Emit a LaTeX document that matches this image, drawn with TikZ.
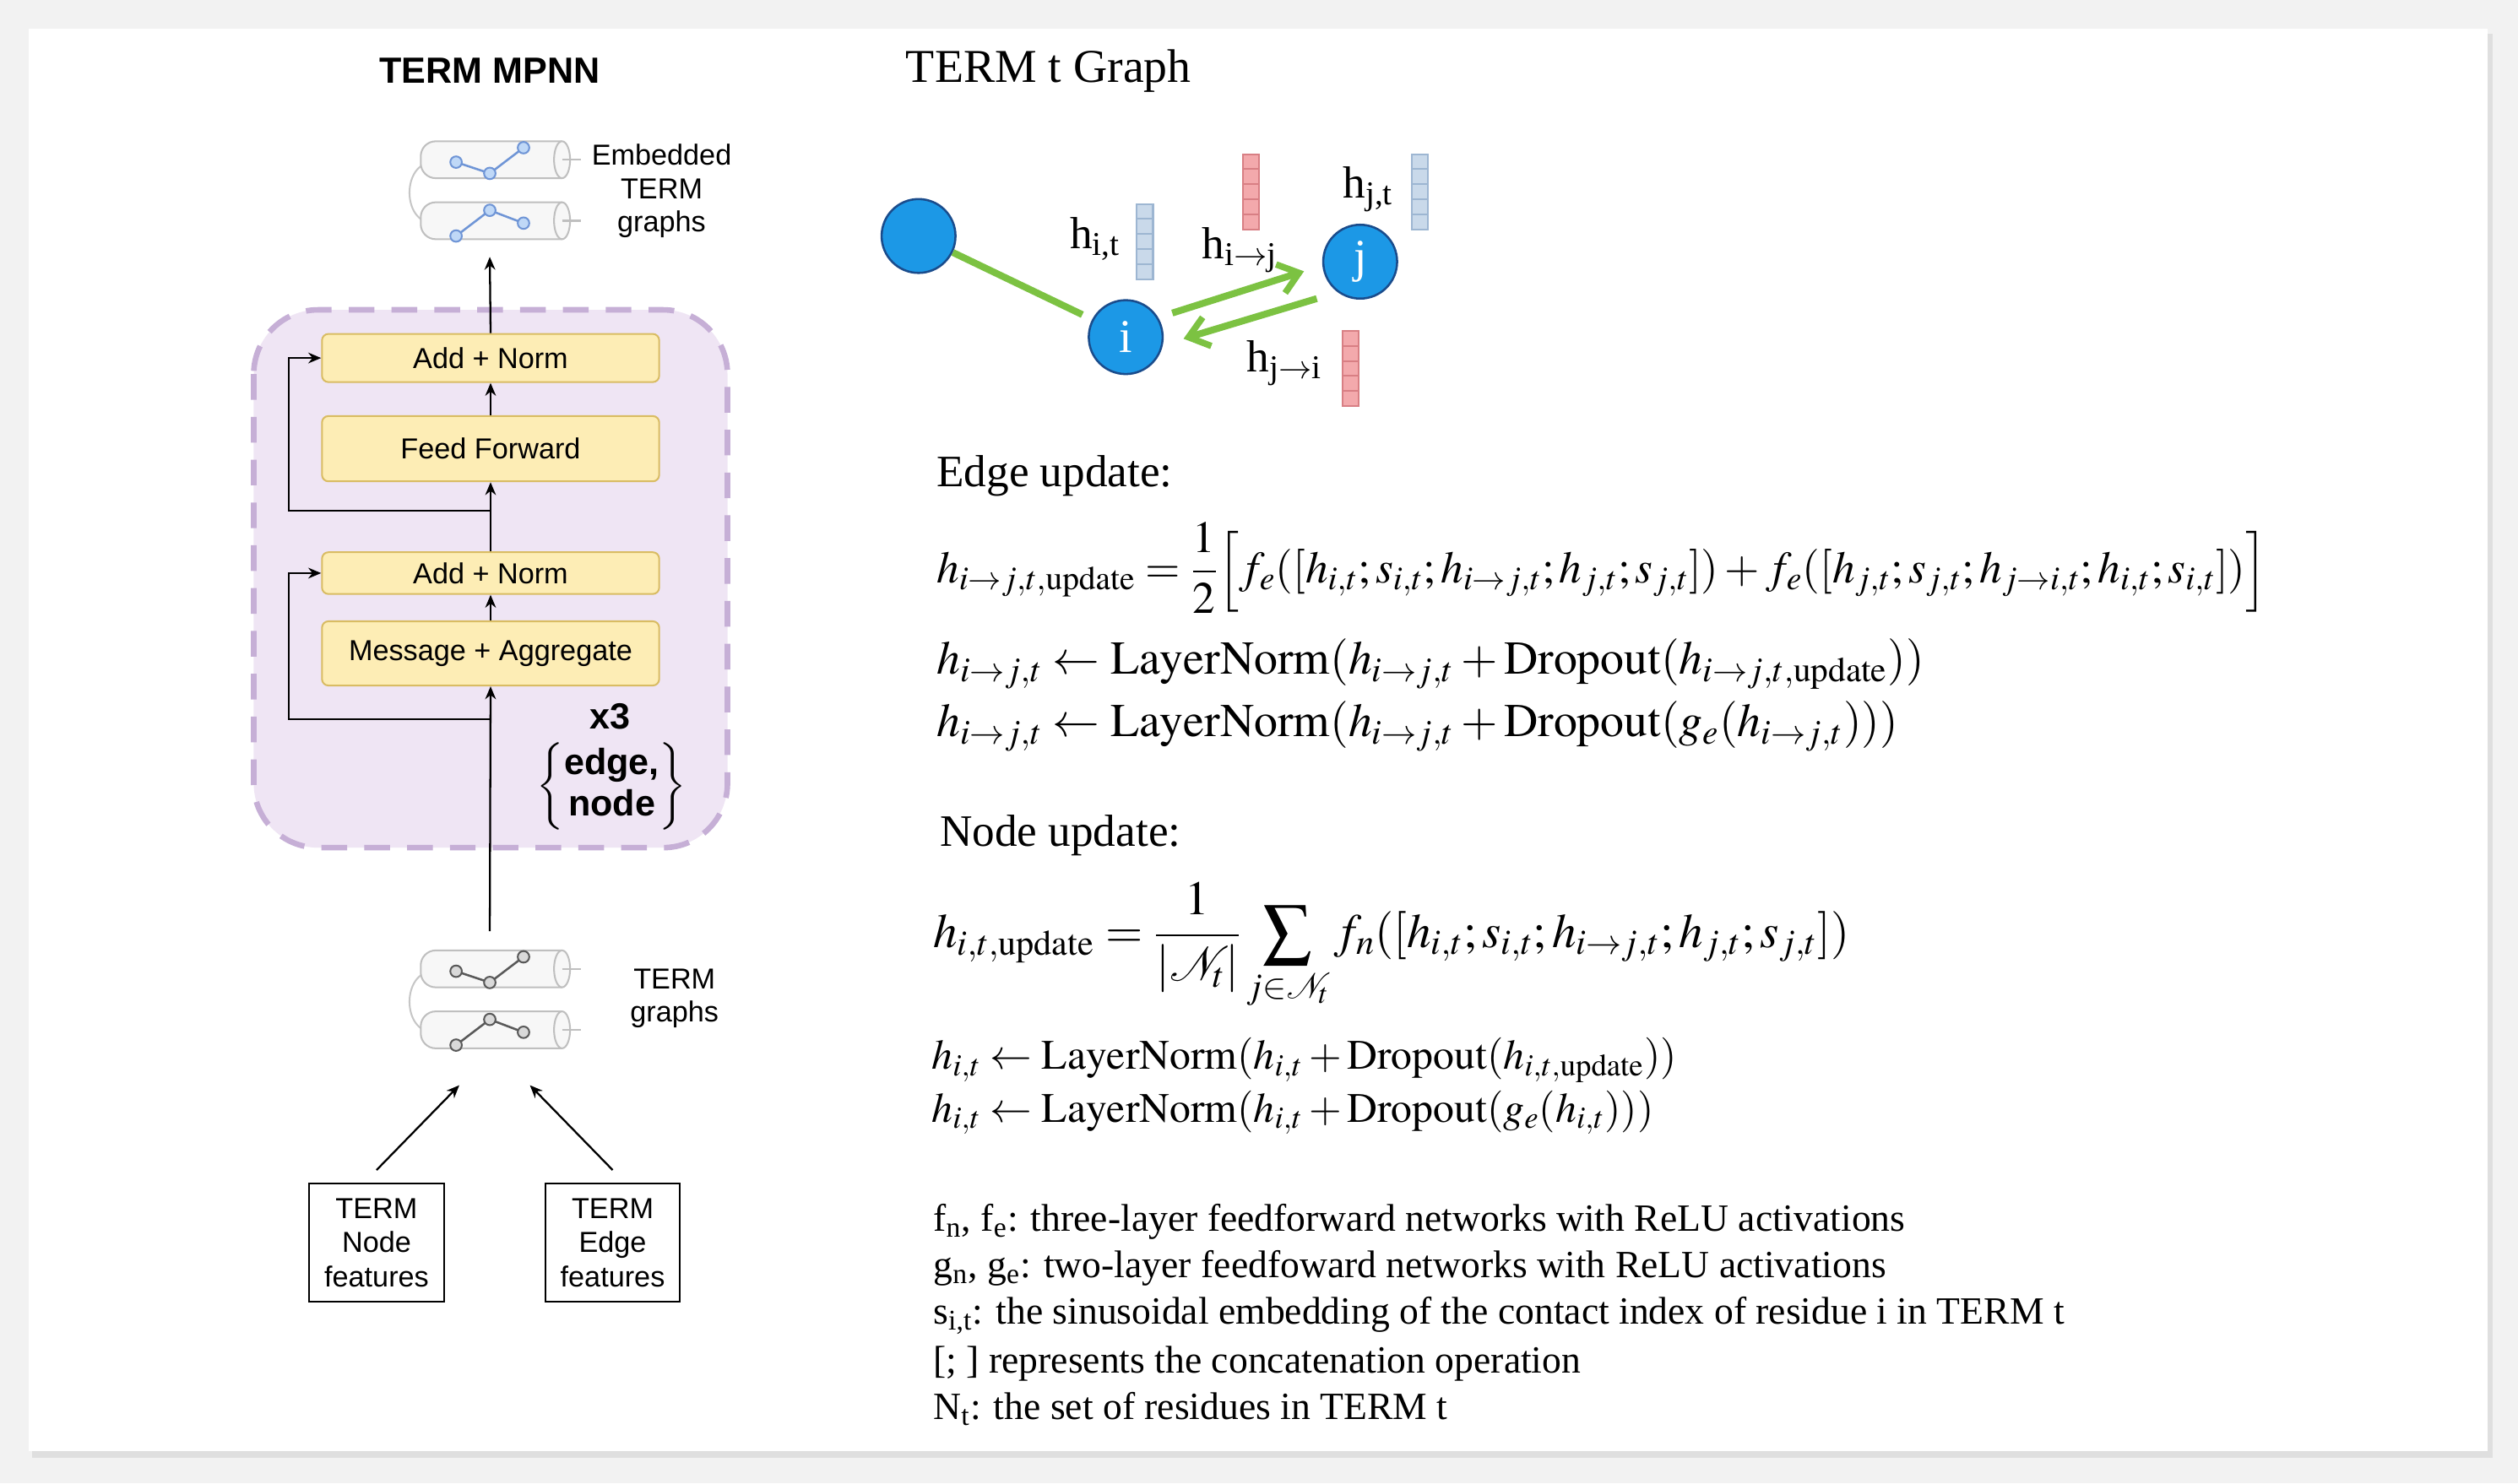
\documentclass[tikz,border=0pt]{standalone}
\usepackage{amsmath}
\usepackage{mathptmx}
\usepackage{fontspec}
\setmainfont{Liberation Serif}
\newfontfamily\arialf{Liberation Sans}
\usetikzlibrary{arrows.meta,shapes.geometric}
\definecolor{cardbg}{HTML}{FFFFFF}
\definecolor{outbg}{HTML}{F2F2F2}
\definecolor{purfill}{HTML}{EFE5F4}
\definecolor{purdraw}{HTML}{C6AFD6}
\definecolor{yfill}{HTML}{FDEDB5}
\definecolor{ydraw}{HTML}{D9BC63}
\definecolor{nodeblue}{HTML}{1C98E6}
\definecolor{nodeedge}{HTML}{1A4C8C}
\definecolor{egreen}{HTML}{7CC242}
\definecolor{vblue}{HTML}{C9D9EA}
\definecolor{vblueD}{HTML}{9DB6D2}
\definecolor{vred}{HTML}{F3A9AC}
\definecolor{vredD}{HTML}{D87F84}
\definecolor{dotblue}{HTML}{BFD8F7}
\definecolor{dotblueD}{HTML}{6F95D6}
\tikzset{
  x=0.75pt, y=-0.75pt,
  blk/.style={draw=ydraw, fill=yfill, rounded corners=3pt, line width=0.8pt, minimum width=157.5pt, inner sep=0pt, font=\arialf\fontsize{13.5}{16}\selectfont},
  arr/.style={-{Stealth[length=6pt,width=5pt]}, line width=0.9pt, black},
  feat/.style={draw, line width=0.8pt, minimum width=63pt, minimum height=55pt, align=center, font=\arialf\fontsize{13.5}{16}\selectfont, inner sep=1pt},
  gnode/.style={circle, draw=nodeedge, fill=nodeblue, line width=1pt, minimum size=34.5pt, inner sep=0pt, text=white, font=\fontsize{22}{24}\selectfont},
  garr/.style={egreen, line width=3.2pt, -{Straight Barb[length=9pt,width=14pt,line width=3pt]}},
  lbl/.style={font=\fontsize{21}{24}\selectfont, inner sep=0pt},
  eq/.style={anchor=base west, inner sep=0pt},
  note/.style={anchor=base west, inner sep=0pt, font=\fontsize{18}{20}\selectfont},
  head/.style={anchor=base west, inner sep=0pt, font=\fontsize{21}{24}\selectfont},
}
\newcommand{\fs}[1]{\fontsize{#1}{#1}\selectfont}
\newcommand{\cylpair}[4]{% x,y (top-left of top cylinder), dot fill, dot draw
  \begin{scope}[shift={(#1,#2)}]
    \draw[gray!45, line width=0.8pt] (8,13) .. controls (-12,13) and (-12,51) .. (8,51);
    \foreach \yy in {0,38}{
      \draw[gray!50, fill=gray!6, line width=0.8pt, rounded corners=7pt] (88,\yy) -- (0,\yy) -- (0,\yy+23) -- (88,\yy+23);
      \draw[gray!50, fill=gray!6, line width=0.8pt] (88,\yy+11.5) ellipse [x radius=5, y radius=11.5];
      \draw[gray!50, line width=0.8pt] (88,\yy+11.5) -- (100,\yy+11.5);
    }
    \draw[#4, line width=1pt] (22,13) -- (43,20) -- (64,4);
    \draw[#4, line width=1pt] (22,59) -- (43,43) -- (64,51);
    \foreach \p in {(22,13),(43,20),(64,4),(22,59),(43,43),(64,51)}
      \draw[#4, fill=#3, line width=0.8pt] \p circle (3.6);
  \end{scope}
}
\newcommand{\vect}[4]{% x,y top-left, fill, draw
  \draw[#4, fill=#3, line width=0.8pt] (#1,#2) rectangle ++(10,47);
  \foreach \k in {1,2,3,4} \draw[#4, line width=0.8pt] (#1,#2+\k*9.4) -- ++(10,0);
}
\begin{document}
\begin{tikzpicture}
\useasboundingbox (0,0) rectangle (1568,924);
\fill[outbg] (0,0) rectangle (1568,924);
\fill[gray!25] (20,21) rectangle (1552,908);
\fill[cardbg] (18,18) rectangle (1549,904);

% ---------- left: TERM MPNN ----------
\node[font=\arialf\bfseries\fontsize{17}{20}\selectfont] (title1) at (305,44) {TERM MPNN};
\cylpair{262}{88}{dotblue}{dotblueD}
\node[align=center, font=\arialf\fontsize{13.5}{15.5}\selectfont] (embl) at (412,119) {Embedded\\TERM\\graphs};
\coordinate (embbot) at (305,160);

\draw[purdraw, fill=purfill, line width=2.6pt, dash pattern=on 12pt off 8pt, rounded corners=30pt] (158,193) rectangle (453,528);

\node[blk, minimum height=22.5pt] (an2) at (305.5,223) {Add + Norm};
\node[blk, minimum height=30.5pt] (ff) at (305.5,279.5) {Feed Forward};
\node[blk, minimum height=19.5pt] (an1) at (305.5,357) {Add + Norm};
\node[blk, minimum height=30pt] (msg) at (305.5,407) {Message + Aggregate};
\coordinate (instart) at (305,580);
\coordinate (br1) at (305,448);
\coordinate (br2) at (305,318);
\coordinate (sk1) at (180,448);
\coordinate (sk1t) at (180,357);
\coordinate (sk2) at (180,318);
\coordinate (sk2t) at (180,223);

\draw[arr] (instart) -- (msg.south);
\draw[arr] (msg.north) -- (an1.south);
\draw[arr] (an1.north) -- (ff.south);
\draw[arr] (ff.north) -- (an2.south);
\draw[arr] (an2.north) -- (embbot);
\draw[arr] (br1) -- (sk1) -- (sk1t) -- (an1.west);
\draw[arr] (br2) -- (sk2) -- (sk2t) -- (an2.west);

\node[font=\arialf\bfseries\fontsize{17}{20}\selectfont] (x3) at (380,446) {x3};
\node[font=\arialf\bfseries\fontsize{17}{20}\selectfont, inner sep=0pt] (en) at (381,490)
  {$\left\{\begin{array}{@{}c@{}}\text{\arialf\bfseries edge,}\\[-1pt] \text{\arialf\bfseries node}\end{array}\right\}$};

\cylpair{262}{592}{gray!30}{gray!70!black}
\node[align=center, font=\arialf\fontsize{13.5}{15.5}\selectfont] (tgl) at (420,622) {TERM\\graphs};
\coordinate (tg1) at (286,676);
\coordinate (tg2) at (330,676);
\node[feat] (nf) at (234.5,774) {TERM\\Node\\features};
\node[feat] (ef) at (381.5,774) {TERM\\Edge\\features};
\draw[arr] (nf.north) ++(0,-8) coordinate (nft) (nft) -- (tg1);
\draw[arr] (ef.north) ++(0,-8) coordinate (eft) (eft) -- (tg2);

% ---------- right: TERM t Graph ----------
\node[font=\fontsize{22}{26}\selectfont] (title2) at (653,44) {TERM t Graph};
\node[gnode] (n0) at (572,147) {};
\node[gnode] (ni) at (701,210) {i};
\node[gnode] (nj) at (847,163) {j};
\coordinate (gi) at (674,196);
\draw[egreen, line width=3.2pt] (n0) -- (gi);
\coordinate (a1s) at (730,195); \coordinate (a1e) at (812,169);
\coordinate (a2s) at (820,186); \coordinate (a2e) at (737,211);
\draw[garr] (a1s) -- (a1e);
\draw[garr] (a2s) -- (a2e);
\vect{708}{127}{vblue}{vblueD}
\vect{774}{96}{vred}{vredD}
\vect{879}{96}{vblue}{vblueD}
\vect{836}{206}{vred}{vredD}
\node[lbl] (lhi) at (682,149) {h\textsubscript{i,t}};
\node[lbl] (lhij) at (772,156) {h\textsubscript{i$\to$j}};
\node[lbl] (lhj) at (852,118) {h\textsubscript{j,t}};
\node[lbl] (lhji) at (800,226) {h\textsubscript{j$\to$i}};

\node[head] (eu) at (583,303) {Edge update:};
\node[eq, font=\fs{21}] (e1) at (583,363) {$h_{i\to j,t,\mathrm{update}} = \dfrac{1}{2}\Big[f_e([h_{i,t};s_{i,t};h_{i\to j,t};h_{j,t};s_{j,t}]) + f_e([h_{j,t};s_{j,t};h_{j\to i,t};h_{i,t};s_{i,t}])\Big]$};
\node[eq, font=\fs{22}] (e2) at (583,420) {$h_{i\to j,t} \leftarrow \mathrm{LayerNorm}(h_{i\to j,t} + \mathrm{Dropout}(h_{i\to j,t,\mathrm{update}}))$};
\node[eq, font=\fs{22}] (e3) at (583,459) {$h_{i\to j,t} \leftarrow \mathrm{LayerNorm}(h_{i\to j,t} + \mathrm{Dropout}(g_e(h_{i\to j,t})))$};

\node[head] (nu) at (585,527) {Node update:};
\node[eq, font=\fs{22.5}] (n1) at (581,590) {$\displaystyle h_{i,t,\mathrm{update}} = \frac{1}{|\mathcal{N}_t|}\sum_{j\in\mathcal{N}_t} f_n([h_{i,t};s_{i,t};h_{i\to j,t};h_{j,t};s_{j,t}])$};
\node[eq, font=\fs{19.6}] (n2) at (580,666) {$h_{i,t} \leftarrow \mathrm{LayerNorm}(h_{i,t} + \mathrm{Dropout}(h_{i,t,\mathrm{update}}))$};
\node[eq, font=\fs{19.6}] (n3) at (580,699) {$h_{i,t} \leftarrow \mathrm{LayerNorm}(h_{i,t} + \mathrm{Dropout}(g_e(h_{i,t})))$};

\node[note] (t1) at (581,767) {f\textsubscript{n}, f\textsubscript{e}: three-layer feedforward networks with ReLU activations};
\node[note] (t2) at (581,796) {g\textsubscript{n}, g\textsubscript{e}: two-layer feedfoward networks with ReLU activations};
\node[note] (t3) at (581,825) {s\textsubscript{i,t}: the sinusoidal embedding of the contact index of residue i in TERM t};
\node[note] (t4) at (581,855) {[; ] represents the concatenation operation};
\node[note] (t5) at (581,884) {N\textsubscript{t}: the set of residues in TERM t};
\end{tikzpicture}
\end{document}
